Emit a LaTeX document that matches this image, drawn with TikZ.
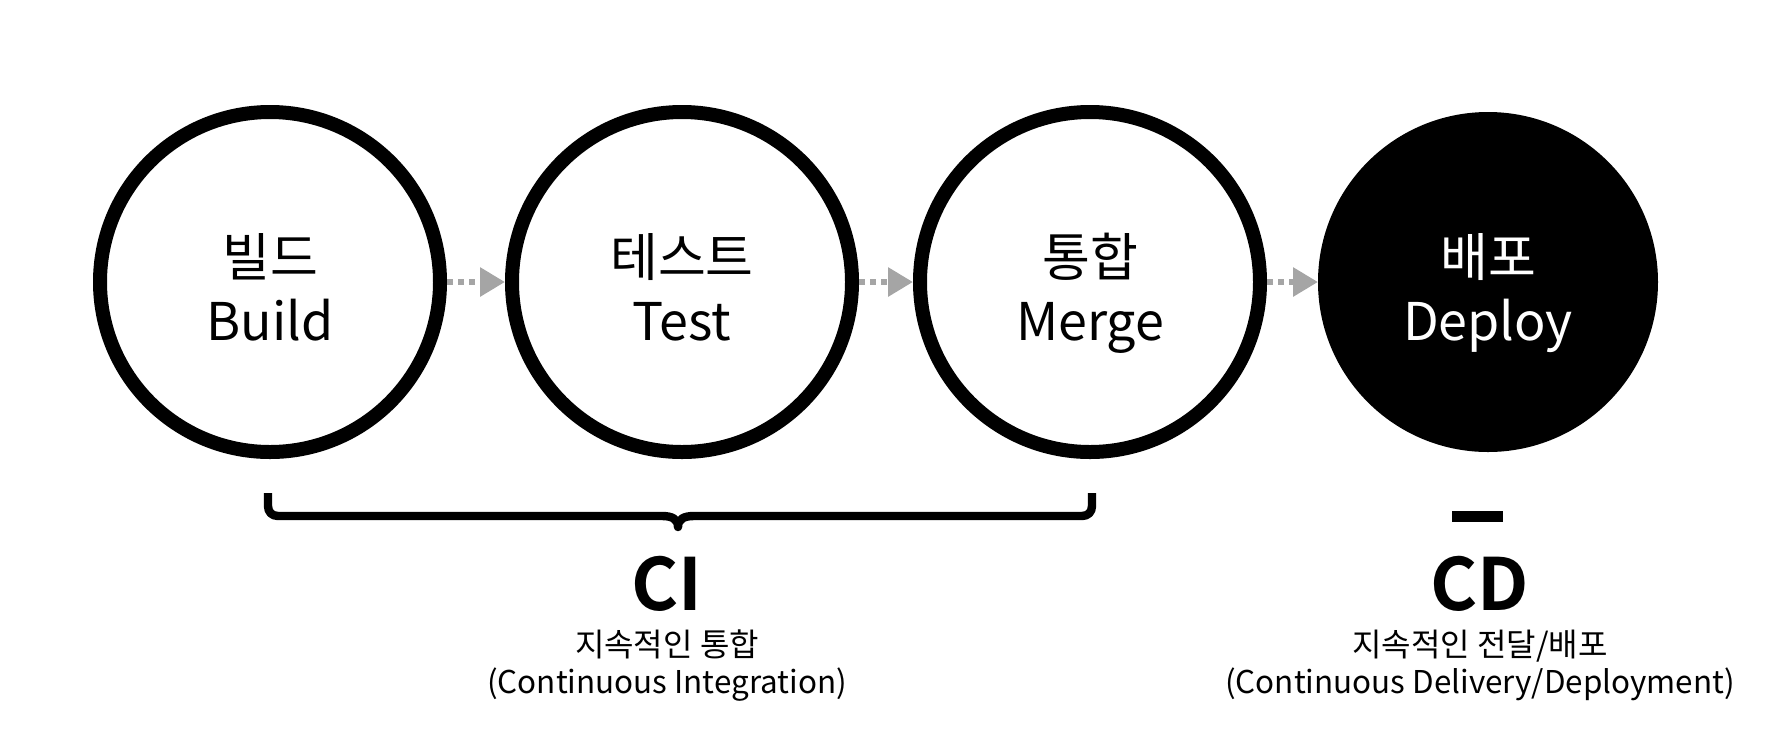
\documentclass[tikz,border=0pt]{standalone}
\usepackage{fontspec}
\setmainfont{Noto Sans CJK KR}[BoldFont={Noto Sans CJK KR Bold}]
\usepackage{tikz}
\usetikzlibrary{arrows.meta}
\definecolor{ArrowGray}{RGB}{165, 165, 165}

\begin{document}
\begin{tikzpicture}[x=0.5pt, y=-0.5pt,
    stage/.style={circle, draw=black, line width=7pt, minimum size=170pt, inner sep=0pt,
      align=center, text height=66pt, text depth=8pt, font=\fontsize{26}{32}\selectfont},
    flow/.style={ArrowGray, line width=3pt, dash pattern=on 3pt off 2.5pt,
      -{Triangle[length=12.5pt, width=14pt]}},
    bracket/.style={line width=4.2pt, line join=round},
    title/.style={anchor=base, font=\fontsize{36}{40}\selectfont\bfseries},
    sub/.style={anchor=base, font=\fontsize{16}{20}\selectfont},
    subeng/.style={anchor=base, font=\fontsize{15.7}{20}\selectfont}]
    \useasboundingbox (0, 0) rectangle (1790, 746);

    % Stages
    \node[stage] (build) at (270, 282) {빌드\\Build};
    \node[stage] (test) at (682, 282) {테스트\\Test};
    \node[stage] (merge) at (1090, 282) {통합\\Merge};
    \node[stage, draw=none, fill=black, text=white, outer sep=0pt] (deploy) at (1488, 282) {배포\\Deploy};

    % Dotted arrows
    \draw[flow] (build) -- (test);
    \draw[flow] (test) -- (merge);
    \draw[flow] (merge) -- (deploy);

    % Brace under CI stages
    \draw[bracket] (268, 493) -- (268, 506) .. controls (268, 512) and (272, 516) .. (278, 516)
      -- (662, 516) .. controls (672, 516) and (678, 519) .. (678, 527)
      .. controls (678, 519) and (684, 516) .. (694, 516)
      -- (1082, 516) .. controls (1088, 516) and (1092, 512) .. (1092, 506) -- (1092, 493);
    \fill (1452, 511) rectangle (1503, 522);

    % Labels
    \node[title] (ci) at (667, 610) {CI};
    \node[sub] (ciko) at (667, 656) {지속적인 통합};
    \node[subeng] (cien) at (667, 693) {(Continuous Integration)};

    \node[title] (cd) at (1480, 610) {CD};
    \node[sub] (cdko) at (1480, 656) {지속적인 전달/배포};
    \node[subeng] (cden) at (1480, 693) {(Continuous Delivery/Deployment)};
\end{tikzpicture}
\end{document}
